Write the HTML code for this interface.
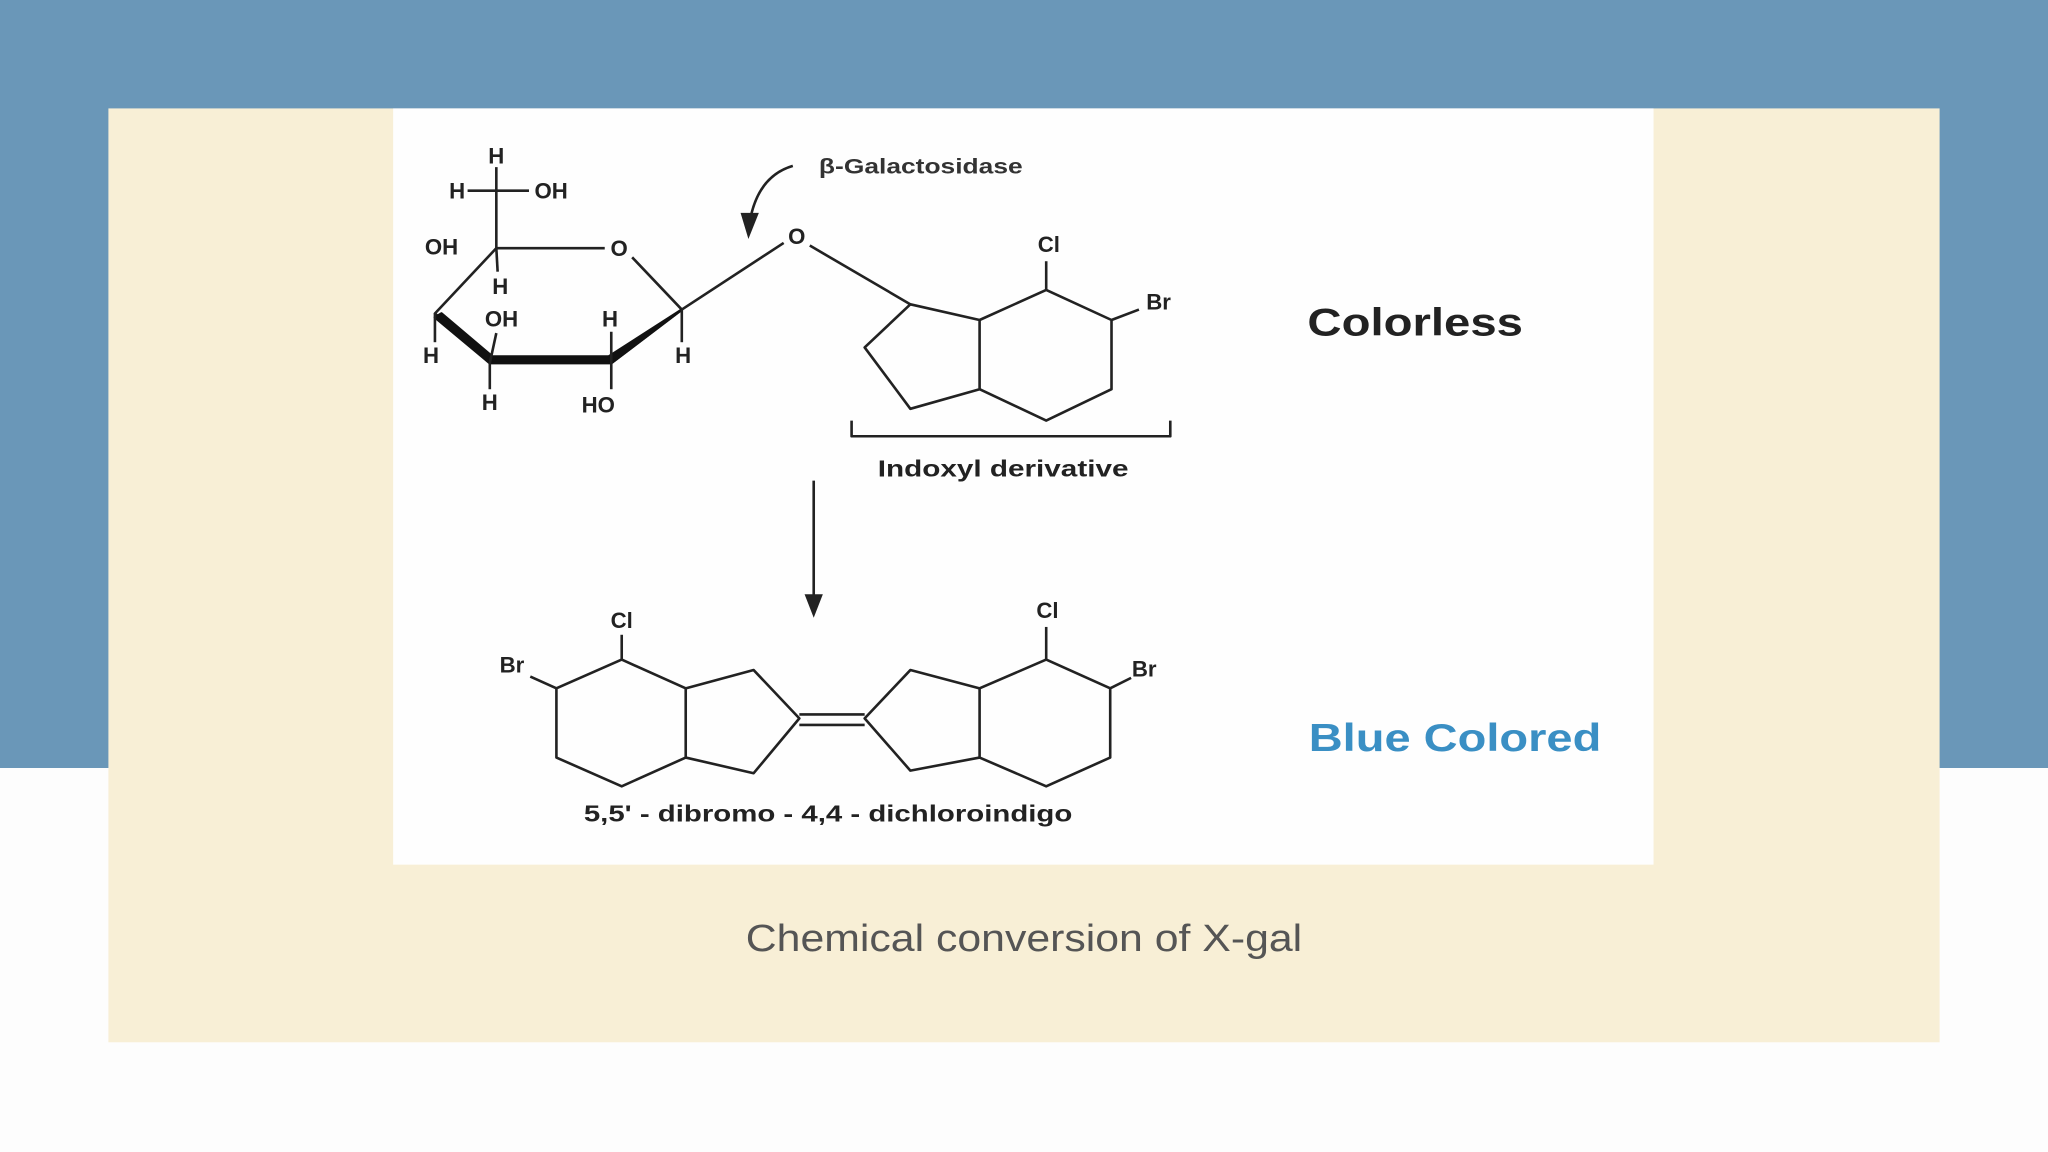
<!DOCTYPE html>
<html><head><meta charset="utf-8"><style>
html,body{margin:0;padding:0;width:2048px;height:1152px;overflow:hidden;background:#fff}
svg{display:block}
text{font-family:"Liberation Sans",sans-serif}
</style></head><body>
<svg width="2048" height="1152" viewBox="0 0 1568 882" xmlns="http://www.w3.org/2000/svg">
<rect x="0" y="0" width="1568" height="882" fill="#fdfdfd"/>
<rect x="0" y="0" width="1568" height="588" fill="#6a97b8"/>
<rect x="83" y="83" width="1402" height="715" fill="#f8efd6"/>
<rect x="301" y="83" width="965" height="579" fill="#fefefe"/>
<g stroke="#222" stroke-width="2" fill="none" stroke-linejoin="round">
<polyline points="380,190 463,190"/>
<polyline points="484,197 522,237 468,278"/>
<polyline points="375,278 333,240 380,190"/>
<polygon points="468,278 375,278 333,243 338,240 377,273 466,273 522,237" fill="#111" stroke="#111"/>
<line x1="380" y1="190" x2="380" y2="128"/>
<line x1="358" y1="146" x2="405" y2="146"/>
<line x1="380" y1="190" x2="381" y2="208"/>
<line x1="333" y1="240" x2="333" y2="262"/>
<line x1="375" y1="278" x2="375" y2="298"/>
<line x1="468" y1="278" x2="468" y2="298"/>
<line x1="468" y1="278" x2="468" y2="254"/>
<line x1="375" y1="278" x2="380" y2="255"/>
<line x1="522" y1="237" x2="522" y2="262"/>
<line x1="522" y1="237" x2="600" y2="186"/>
<line x1="620" y1="188" x2="697" y2="233"/>
<polygon points="697,233 750,245 750,298 697,313 662,266"/>
<polyline points="750,245 801,222 851,245 851,298 801,322 750,298"/>
<line x1="801" y1="222" x2="801" y2="200"/>
<line x1="851" y1="245" x2="872" y2="237"/>
<polyline points="652,322 652,334 896,334 896,322"/>
<path d="M607,127 Q580,135 574,170"/>
<line x1="623" y1="368" x2="623" y2="458"/>
<polygon points="476,505 525,527 525,580 476,602 426,580 426,527"/>
<polyline points="525,527 577,513 612,550 577,592 525,580"/>
<polyline points="750,527 697,513 662,550 697,590 750,580"/>
<polygon points="750,527 801,505 850,527 850,580 801,602 750,580"/>
<line x1="612" y1="547" x2="662" y2="547"/>
<line x1="612" y1="555" x2="662" y2="555"/>
<line x1="476" y1="505" x2="476" y2="486"/>
<line x1="426" y1="527" x2="406" y2="518"/>
<line x1="801" y1="505" x2="801" y2="480"/>
<line x1="850" y1="527" x2="866" y2="519"/>
</g>
<polygon points="567,163 581,163 573,183" fill="#222"/>
<polygon points="616,455 630,455 623,473" fill="#222"/>
<g font-size="17" font-weight="bold" fill="#222" text-anchor="middle">
<text x="380" y="125">H</text>
<text x="350" y="152">H</text>
<text x="422" y="152">OH</text>
<text x="338" y="195">OH</text>
<text x="474" y="196">O</text>
<text x="383" y="225">H</text>
<text x="384" y="250">OH</text>
<text x="467" y="250">H</text>
<text x="330" y="278">H</text>
<text x="523" y="278">H</text>
<text x="375" y="314">H</text>
<text x="458" y="316">HO</text>
<text x="610" y="187">O</text>
<text x="803" y="193">Cl</text>
<text x="887" y="237">Br</text>
<text x="768" y="365" font-size="18" textLength="192" lengthAdjust="spacingAndGlyphs">Indoxyl derivative</text>
<text x="476" y="481">Cl</text>
<text x="392" y="515">Br</text>
<text x="802" y="473">Cl</text>
<text x="876" y="518">Br</text>
<text x="634" y="629" font-size="18" textLength="374" lengthAdjust="spacingAndGlyphs">5,5' - dibromo - 4,4 - dichloroindigo</text>
</g>
<text x="627" y="133" font-size="16" font-weight="bold" fill="#333" textLength="156" lengthAdjust="spacingAndGlyphs">β-Galactosidase</text>
<text x="1001" y="257" font-size="30" font-weight="bold" fill="#222" textLength="165" lengthAdjust="spacingAndGlyphs">Colorless</text>
<text x="1002" y="575" font-size="30" font-weight="bold" fill="#3a8fc4" textLength="224" lengthAdjust="spacingAndGlyphs">Blue Colored</text>
<text x="571" y="728" font-size="29" fill="#555" textLength="426" lengthAdjust="spacingAndGlyphs">Chemical conversion of X-gal</text>
</svg>
</body></html>
